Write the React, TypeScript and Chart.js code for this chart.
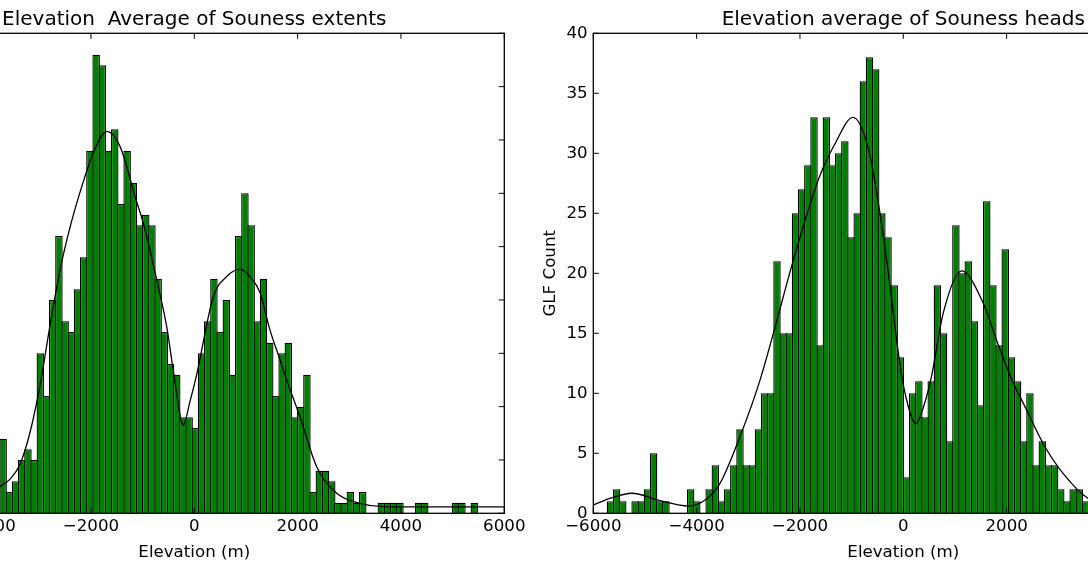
import React, { useEffect, useRef } from 'react';
import { Chart, registerables } from 'chart.js';

Chart.register(...registerables);

const FONT = 'DejaVu Sans';

// ---- Left panel: "Elevation  Average of Souness extents" ----
const extentsTitle = 'Elevation  Average of Souness extents';
const extentsBinStart = -3760;
const extentsBinWidth = 120;
const extentsCounts = [
  7, 2, 3, 5, 6, 5, 15, 11, 20, 26,
  18, 17, 21, 24, 34, 43, 42, 34, 36, 29,
  34, 31, 27, 28, 27, 22, 17, 14, 13, 9,
  9, 8, 15, 18, 22, 17, 20, 13, 26, 30,
  27, 18, 22, 16, 11, 15, 16, 9, 10, 13,
  2, 4, 4, 3, 1, 1, 2, 1, 2, 0,
  0, 1, 1, 1, 1, 0, 0, 1, 1, 0,
  0, 0, 0, 1, 1, 0, 1,
];
const extentsCurveX = [-3800, -3760, -3566, -3373, -3179, -2986, -2793, -2599, -2406, -2154, -1922, -1692, -1438, -1128, -987, -728, -534, -406, -213, -83, 46, 368, 627, 884, 1077, 1271, 1464, 1658, 1788, 2045, 2368, 2755, 3206, 3657, 4367, 6000];
const extentsCurveY = [2.3, 2.5, 3.2, 4.6, 7.6, 12.0, 17.6, 22.8, 26.8, 31.0, 34.2, 35.8, 34.4, 29.4, 27.2, 21.9, 17.5, 13.4, 8.3, 10.5, 13.0, 20.3, 22.2, 22.9, 22.2, 20.7, 17.2, 14.4, 12.5, 9.05, 4.37, 1.87, 0.94, 0.62, 0.6, 0.6];
const extentsYMax = 45;

// ---- Right panel: "Elevation average of Souness heads" ----
const headsTitle = 'Elevation average of Souness heads';
const headsBinStart = -5728;
const headsBinWidth = 119.4;
const headsCounts = [
  1, 2, 1, 0, 1, 1, 2, 5, 1, 1,
  0, 0, 0, 2, 1, 0, 2, 4, 1, 2,
  4, 7, 4, 4, 7, 10, 10, 21, 15, 15,
  25, 27, 29, 33, 14, 33, 29, 30, 31, 23,
  25, 36, 38, 37, 25, 23, 19, 13, 3, 10,
  11, 8, 11, 19, 15, 6, 24, 20, 21, 16,
  9, 26, 19, 14, 22, 13, 11, 6, 10, 4,
  6, 4, 4, 2, 1, 2, 2, 1,
];
const headsCurveX = [-6000, -5637, -5255, -4708, -4160, -3837, -3547, -3160, -2773, -2483, -2128, -1645, -1322, -973, -683, -451, -258, -103, 19, 246, 401, 550, 774, 1130, 1548, 1807, 2084, 2388, 2709, 3096, 3574, 4000];
const headsCurveY = [0.69, 1.3, 1.67, 1.05, 0.6, 1.1, 2.5, 6.4, 11.1, 15.5, 21.1, 27.8, 30.8, 33.0, 30.5, 25, 19, 13.6, 10.3, 7.5, 9.0, 11.5, 16.7, 20.2, 17.5, 14.4, 11.3, 8.6, 5.8, 3.3, 1.25, 0.8];
const headsYMax = 40;

const xMin = -6000;
const xMax = 6000;
const xStep = 2000;
const yStep = 5;
const xLabel = 'Elevation (m)';
const yLabel = 'GLF Count';

const fmt = (v: number) => (v < 0 ? '\u2212' + Math.abs(v) : String(v));

const framePlugin = {
  id: 'mplFrame',
  afterDraw(chart: any) {
    const { ctx, chartArea } = chart;
    const { left, right, top, bottom } = chartArea;
    const xs = chart.scales.x;
    const ys = chart.scales.y;
    const TL = 5.5;
    ctx.save();
    ctx.strokeStyle = '#000';
    ctx.lineWidth = 1;
    ctx.beginPath();
    xs.ticks.forEach((t: any) => {
      const p = xs.getPixelForValue(t.value);
      ctx.moveTo(p, bottom);
      ctx.lineTo(p, bottom - TL);
      ctx.moveTo(p, top);
      ctx.lineTo(p, top + TL);
    });
    ys.ticks.forEach((t: any) => {
      const p = ys.getPixelForValue(t.value);
      ctx.moveTo(left, p);
      ctx.lineTo(left + TL, p);
      ctx.moveTo(right, p);
      ctx.lineTo(right - TL, p);
    });
    ctx.stroke();
    ctx.lineWidth = 1.3;
    ctx.strokeRect(left, top, right - left, bottom - top);
    ctx.restore();
  },
};

type PanelProps = {
  canvasLeft: number;
  canvasWidth: number;
  padLeft: number;
  padRight: number;
  title: string;
  counts: number[];
  binStart: number;
  binWidth: number;
  curveX: number[];
  curveY: number[];
  yMax: number;
};

function Panel(p: PanelProps) {
  const ref = useRef<HTMLCanvasElement | null>(null);
  useEffect(() => {
    if (!ref.current) return;
    const tickFont = { family: FONT, size: 16.67 };
    const barData = p.counts.map((c, i) => ({ x: p.binStart + p.binWidth * (i + 0.5), y: c }));
    const lineData = p.curveX.map((x, i) => ({ x, y: p.curveY[i] }));
    const chart = new Chart(ref.current, {
      type: 'bar',
      data: {
        datasets: [
          {
            type: 'line',
            data: lineData,
            borderColor: '#000',
            borderWidth: 1.3,
            pointRadius: 0,
            fill: false,
            cubicInterpolationMode: 'monotone',
            order: 0,
          } as any,
          {
            type: 'bar',
            data: barData,
            backgroundColor: '#008000',
            borderColor: '#000',
            borderWidth: 1.3,
            barPercentage: 1.21,
            categoryPercentage: 1,
            order: 1,
          } as any,
        ],
      },
      options: {
        animation: false,
        responsive: false,
        layout: { padding: { left: p.padLeft, right: p.padRight, top: 0, bottom: 8.8 } },
        plugins: {
          legend: { display: false },
          tooltip: { enabled: false },
          title: {
            display: true,
            text: p.title,
            fullSize: false,
            color: '#000',
            font: { family: FONT, size: 20, weight: 'normal' },
            padding: { top: 7.5, bottom: 1.8 },
          },
        },
        scales: {
          x: {
            type: 'linear',
            min: xMin,
            max: xMax,
            offset: false,
            grid: { display: false, drawTicks: false },
            border: { display: false },
            ticks: { stepSize: xStep, color: '#000', font: tickFont, padding: 3.4, maxRotation: 0, autoSkip: false, callback: (v: any) => fmt(Number(v)) },
            title: { display: true, text: xLabel, color: '#000', font: tickFont, padding: 0 },
            afterFit: (s: any) => { s.height = 48.9; },
          },
          y: {
            type: 'linear',
            min: 0,
            max: p.yMax,
            grid: { display: false, drawTicks: false },
            border: { display: false },
            ticks: { stepSize: yStep, color: '#000', font: tickFont, padding: 5.6 },
            title: { display: true, text: yLabel, color: '#000', font: tickFont, padding: 0 },
            afterFit: (s: any) => { s.width = 53; },
          },
        },
      } as any,
      plugins: [framePlugin],
    });
    return () => chart.destroy();
  }, []);
  return (
    <canvas
      ref={ref}
      width={p.canvasWidth}
      height={571}
      style={{ position: 'absolute', left: p.canvasLeft, top: 0, width: p.canvasWidth, height: 571 }}
    />
  );
}

export default function App() {
  return (
    <div style={{ position: 'fixed', left: 0, top: 0, width: 1088, height: 571, overflow: 'hidden', background: '#fff' }}>
      <Panel
        canvasLeft={-200}
        canvasWidth={800}
        padLeft={31.3}
        padRight={95.7}
        title={extentsTitle}
        counts={extentsCounts}
        binStart={extentsBinStart}
        binWidth={extentsBinWidth}
        curveX={extentsCurveX}
        curveY={extentsCurveY}
        yMax={extentsYMax}
      />
      <Panel
        canvasLeft={530}
        canvasWidth={714}
        padLeft={10.3}
        padRight={30.7}
        title={headsTitle}
        counts={headsCounts}
        binStart={headsBinStart}
        binWidth={headsBinWidth}
        curveX={headsCurveX}
        curveY={headsCurveY}
        yMax={headsYMax}
      />
    </div>
  );
}
